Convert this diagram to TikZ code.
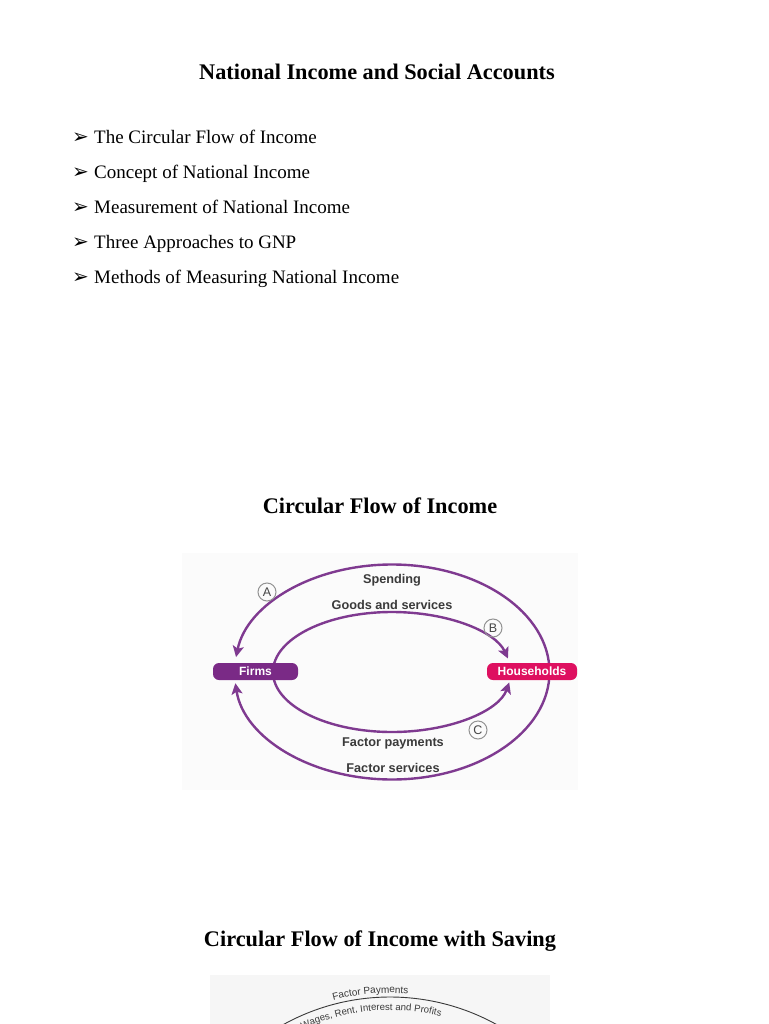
\documentclass[tikz,border=0pt]{standalone}
\usepackage{fontspec}
\setmainfont{Liberation Serif}
\newfontfamily\labelfont{Liberation Sans}
\newfontfamily\dingfont{DejaVu Sans}
\usetikzlibrary{arrows.meta, calc, decorations.text}
\definecolor{flowpurple}{HTML}{7F3A90}
\definecolor{firmpurple}{HTML}{7A2A86}
\definecolor{hhred}{HTML}{DE1060}
\definecolor{labelgray}{HTML}{3A3A3A}

\begin{document}
\begin{tikzpicture}[x=1pt, y=1pt,
    heading/.style={font=\bfseries\fontsize{22.3}{26}\selectfont, anchor=base},
    item/.style={font=\fontsize{19}{23}\selectfont, anchor=base west, inner sep=0pt},
    bul/.style={font=\dingfont\fontsize{20}{22}\selectfont, anchor=base west, inner sep=0pt},
    flowlbl/.style={font=\labelfont\bfseries\fontsize{12.7}{15}\selectfont, text=labelgray, anchor=base},
    sector/.style={rounded corners=6pt, minimum height=17pt, inner sep=0pt, text=white,
                   font=\labelfont\bfseries\fontsize{12}{14}\selectfont},
    tag/.style={circle, draw=gray!85, line width=1pt, minimum size=18pt, inner sep=0pt,
                text=gray!55!black, font=\labelfont\fontsize{12.5}{14}\selectfont},
    flow/.style={draw=flowpurple, line width=2.4pt, -{Stealth[length=11pt, width=11pt, inset=2.5pt]}},
]
    \useasboundingbox (0,0) rectangle (768,-1024);
    \clip (0,0) rectangle (768,-1024);
    \fill[white] (0,0) rectangle (768,-1024);

    % Page heading and topics.
    \node[heading] (title) at (377,-80) {National Income and Social Accounts};
    \foreach \i/\y/\txt in {1/144/The Circular Flow of Income,
                            2/179/Concept of National Income,
                            3/214/Measurement of National Income,
                            4/248/Three Approaches to GNP,
                            5/283/Methods of Measuring National Income} {
        \node[bul] (b\i) at (72,-\y) {➢};
        \node[item] (t\i) at (94,-\y) {\txt};
    }

    % Circular flow diagram.
    \node[heading] (cfi) at (380,-513) {Circular Flow of Income};
    \fill[gray!3] (182,-553) rectangle (578,-790);
    \coordinate (ctr) at (392,-672);
    \coordinate (oR) at ($(ctr)+(0:157.5pt and 107.5pt)$);
    \coordinate (iL) at ($(ctr)+(180:119pt and 60pt)$);
    \draw[flow] (oR) arc[start angle=0, end angle=172, x radius=157.5pt, y radius=107.5pt];
    \draw[flow] (oR) arc[start angle=0, end angle=-174, x radius=157.5pt, y radius=107.5pt];
    \draw[flow] (iL) arc[start angle=180, end angle=13, x radius=119pt, y radius=60pt];
    \draw[flow] (iL) arc[start angle=180, end angle=350, x radius=119pt, y radius=60pt];

    \node[sector, fill=firmpurple, minimum width=85pt] (firms) at (255.5,-671.5) {Firms};
    \node[sector, fill=hhred, minimum width=90pt] (hh) at (532,-671.5) {Households};

    \node[flowlbl] (spend) at (392,-583) {Spending};
    \node[flowlbl] (goods) at (392,-609) {Goods and services};
    \node[flowlbl] (fpay) at (393,-746) {Factor payments};
    \node[flowlbl] (fserv) at (393,-772) {Factor services};

    \node[tag] (tagA) at (267,-592) {A};
    \node[tag] (tagB) at (493,-628) {B};
    \node[tag] (tagC) at (478,-730) {C};

    % Saving diagram (cut off at the page foot).
    \node[heading] (cfis) at (380,-946) {Circular Flow of Income with Saving};
    \fill[gray!7] (210,-975) rectangle (550,-1030);
    \coordinate (sc) at (390,-1217);
    \draw[labelgray, line width=0.9pt] ($(sc)+(128:220pt)$) arc[start angle=128, end angle=52, radius=220pt];
    \path[decorate, decoration={text along path, text align=center,
          text={|\labelfont\fontsize{10}{12}\selectfont\color{labelgray}|Factor Payments}}]
        ($(sc)+(106:224pt)$) arc[start angle=106, end angle=84, radius=224pt];
    \path[decorate, decoration={text along path, text align=left,
          text={|\labelfont\fontsize{9.6}{11}\selectfont\color{labelgray}|Wages, Rent, Interest and Profits}}]
        ($(sc)+(115:207pt)$) arc[start angle=115, end angle=68, radius=207pt];
\end{tikzpicture}
\end{document}
